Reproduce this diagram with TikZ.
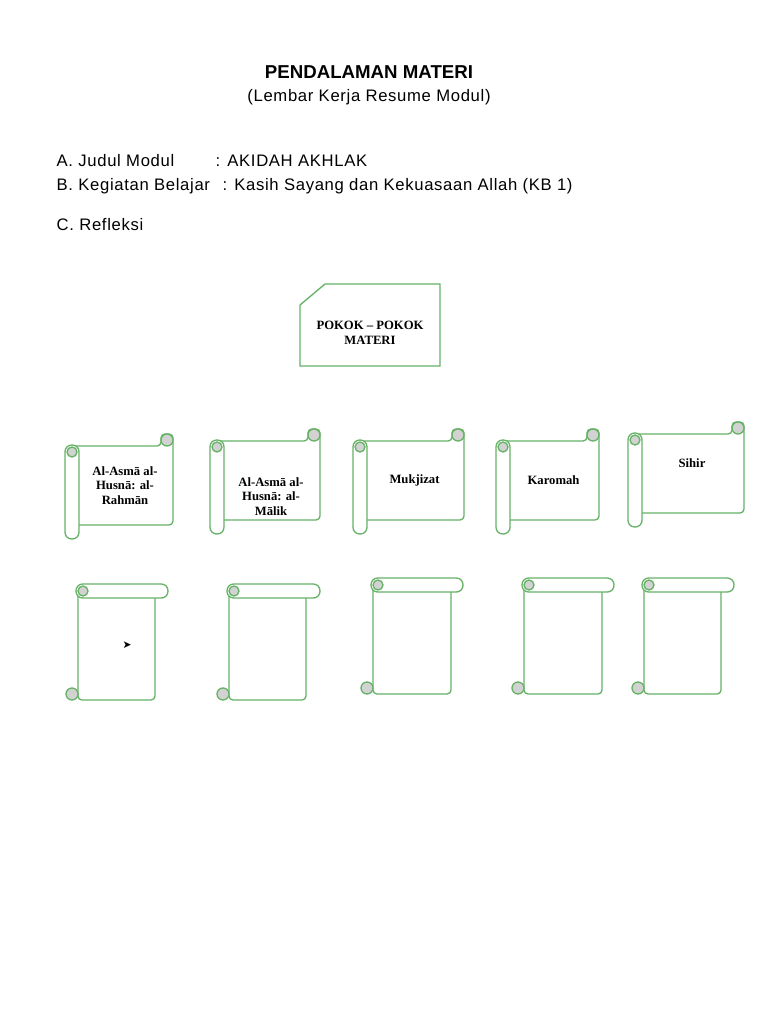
\documentclass[tikz,border=0pt]{standalone}
\usepackage{fontspec}
\setmainfont{Liberation Sans}
\newfontfamily\hdfont[LetterSpace=4]{Liberation Sans}
\newfontfamily\boxfont{Liberation Serif}
\newfontfamily\djv{DejaVu Sans}
\begin{document}
\begin{tikzpicture}[x=0.75pt,y=-0.75pt,
  ln/.style={draw=green!50!black!60!white, line width=1pt},
  curl/.style={ln, fill=gray!35},
  lab/.style={font=\boxfont\bfseries\fontsize{9.5}{11}\selectfont, align=center},
  hd/.style={font=\hdfont\fontsize{12.5}{15}\selectfont, anchor=west}]
\useasboundingbox (0,0) rectangle (768,1024);
\fill[white] (0,0) rectangle (768,1024);
\node (title) at (369,72) {\bfseries\fontsize{14}{16}\selectfont PENDALAMAN MATERI};
\node (sub) at (369,97) {\hdfont\fontsize{12.5}{15}\selectfont (Lembar Kerja Resume Modul)};
\node[hd] (a) at (52,161) {A.\ Judul Modul};
\node[hd] (ac) at (211,161) {: AKIDAH AKHLAK};
\node[hd] (b) at (52,186) {B.\ Kegiatan Belajar};
\node[hd] (bc) at (218,186) {: Kasih Sayang dan Kekuasaan Allah (KB 1)};
\node[hd] (c) at (52,225) {C.\ Refleksi};
\draw[ln] (300,305) -- (325,284) -- (440,284) -- (440,366) -- (300,366) -- cycle;
\node[lab] (pk) at (370,333) {POKOK – POKOK\\MATERI};
% horizontal scrolls
\foreach \L/\T/\R/\B/\n in {65/446/173/525/s1,210/441/320/520/s2,353/441/464/520/s3,496/441/599/520/s4,628/434/744/513/s5}{
  \draw[ln, fill=white, rounded corners=3pt] (\L+7,\T) -- (\R-12,\T) -- (\R-12,\T-12) -- (\R,\T-12) -- (\R,\B) -- (\L+7,\B) -- cycle;
  \draw[curl] (\R-6,\T-6) circle (6);
  \draw[ln, fill=white, rounded corners=5pt] (\L,\T-1) rectangle (\L+14,\B+14);
  \draw[curl] (\L+7,\T+6) circle (5);
  \coordinate (\n) at ({(\L+\R)/2+6},{(\T+\B)/2});
}
\node[lab] at (s1) {Al-Asmā al-\\Husnā: al-\\Rahmān};
\node[lab] at ([yshift=-12pt]s2) {Al-Asmā al-\\Husnā: al-\\Mālik};
\node[lab] at (s3) {Mukjizat};
\node[lab] at (s4) {Karomah};
\node[lab] at ([yshift=8pt]s5) {Sihir};
% vertical scrolls
\foreach \L/\T/\R/\B/\RR in {78/584/155/700/168,229/584/306/700/320,373/578/451/694/463,524/578/602/694/614,644/578/721/694/734}{
  \draw[ln, fill=white, rounded corners=3pt] (\L,\T+7) -- (\R,\T+7) -- (\R,\B) -- (\L,\B) -- cycle;
  \draw[ln, fill=white, rounded corners=5pt] (\L-2,\T) rectangle (\RR,\T+14);
  \draw[curl] (\L+5,\T+7) circle (5);
  \draw[curl] (\L-6,\B-6) circle (6);
}
\node[font=\djv\fontsize{8}{9}\selectfont] (arr) at (127,645) {➤};
\end{tikzpicture}
\end{document}
